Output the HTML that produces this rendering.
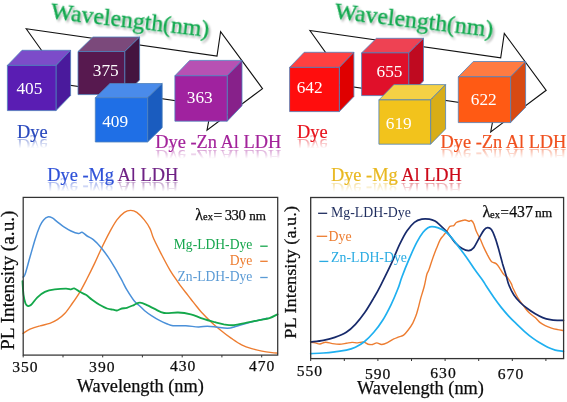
<!DOCTYPE html>
<html><head><meta charset="utf-8"><title>Wavelength PL figure</title>
<style>
html,body{margin:0;padding:0;background:#fff;}
body{width:567px;height:402px;overflow:hidden;}
svg{display:block;font-family:"Liberation Serif","Times New Roman",serif;}
</style></head><body>
<svg width="567" height="402" viewBox="0 0 567 402">
<defs>
<linearGradient id="fadeg" x1="0" y1="0" x2="0" y2="1">
<stop offset="0" stop-color="#707070"/><stop offset="0.2" stop-color="#707070"/><stop offset="0.66" stop-color="#000"/>
</linearGradient>
<mask id="fade" maskContentUnits="objectBoundingBox"><rect x="0" y="0" width="1" height="1" fill="url(#fadeg)"/></mask>
<filter id="sh" x="-5%" y="-20%" width="110%" height="150%"><feGaussianBlur in="SourceAlpha" stdDeviation="1.2" result="b"/><feOffset in="b" dx="1.5" dy="2" result="o"/><feComponentTransfer in="o" result="s"><feFuncA type="linear" slope="0.3"/></feComponentTransfer><feMerge><feMergeNode in="s"/><feMergeNode in="SourceGraphic"/></feMerge></filter>
</defs>
<rect width="567" height="402" fill="#fff"/>

<g>
<text transform="translate(50,18.5) rotate(6.6)" font-size="23.8" fill="#12a84e" stroke="#12a84e" stroke-width="0.35" filter="url(#sh)">Wavelength(nm)</text>
<polygon fill="none" stroke="#111" stroke-width="1.1" stroke-linejoin="miter" points="26.2,28.8 217.0,56.1 220.6,31.6 262.5,88.6 207.0,130.2 211.5,106.0 48.0,82.0 52.0,65.0"/>
<g stroke="#4f81bd" stroke-width="0.8" stroke-linejoin="round"><polygon points="78,51.5 92.9,37.0 139.6,37.0 124.7,51.5" fill="#7b497b"/><polygon points="124.7,51.5 139.6,37.0 139.6,80.1 124.7,94.6" fill="#44143f"/><rect x="78" y="51.5" width="46.7" height="43.099999999999994" fill="#57194f"/></g>
<g stroke="#4f81bd" stroke-width="0.8" stroke-linejoin="round"><polygon points="7.4,65.4 22.0,50.300000000000004 70.6,50.300000000000004 56,65.4" fill="#7c4cc9"/><polygon points="56,65.4 70.6,50.300000000000004 70.6,95.5 56,110.6" fill="#4a1a9c"/><rect x="7.4" y="65.4" width="48.6" height="45.19999999999999" fill="#5a1db3"/></g>
<g stroke="#4f81bd" stroke-width="0.8" stroke-linejoin="round"><polygon points="95.3,97.8 109.89999999999999,83.5 162.2,83.5 147.6,97.8" fill="#4a8bea"/><polygon points="147.6,97.8 162.2,83.5 162.2,127.7 147.6,142" fill="#1a5cbf"/><rect x="95.3" y="97.8" width="52.3" height="44.2" fill="#1f6fe6"/></g>
<g stroke="#4f81bd" stroke-width="0.8" stroke-linejoin="round"><polygon points="174.9,75.8 189.70000000000002,60.4 242.0,60.4 227.2,75.8" fill="#b751b3"/><polygon points="227.2,75.8 242.0,60.4 242.0,105.8 227.2,121.2" fill="#87218a"/><rect x="174.9" y="75.8" width="52.29999999999998" height="45.400000000000006" fill="#a0229f"/></g>
<text x="105.8" y="76.1" font-size="17.3" fill="#fff" text-anchor="middle">375</text>
<text x="29.4" y="94" font-size="17.3" fill="#fff" text-anchor="middle">405</text>
<text x="115.1" y="126.7" font-size="17.3" fill="#fff" text-anchor="middle">409</text>
<text x="199.7" y="102.7" font-size="17.3" fill="#fff" text-anchor="middle">363</text>
<text x="17" y="137.7" font-size="18.35" text-anchor="start" xml:space="preserve"><tspan fill="#2747bd" stroke="#2747bd" stroke-width="0.2">Dye</tspan></text><g mask="url(#fade)"><text transform="translate(0,276.79999999999995) scale(1,-1)" x="17" y="137.7" font-size="18.35" text-anchor="start" xml:space="preserve"><tspan fill="#2747bd" stroke="#2747bd" stroke-width="0.2">Dye</tspan></text></g>
<text x="47.3" y="181" font-size="18.35" text-anchor="start" xml:space="preserve"><tspan fill="#2f52d8" stroke="#2f52d8" stroke-width="0.2">Dye -Mg </tspan><tspan fill="#6f2285" stroke="#6f2285" stroke-width="0.2">Al LDH</tspan></text><g mask="url(#fade)"><text transform="translate(0,363.4) scale(1,-1)" x="47.3" y="181" font-size="18.35" text-anchor="start" xml:space="preserve"><tspan fill="#2f52d8" stroke="#2f52d8" stroke-width="0.2">Dye -Mg </tspan><tspan fill="#6f2285" stroke="#6f2285" stroke-width="0.2">Al LDH</tspan></text></g>
<text x="155.3" y="148.1" font-size="18.35" text-anchor="start" xml:space="preserve"><tspan fill="#a3239b" stroke="#a3239b" stroke-width="0.2">Dye -Zn Al LDH</tspan></text><g mask="url(#fade)"><text transform="translate(0,297.59999999999997) scale(1,-1)" x="155.3" y="148.1" font-size="18.35" text-anchor="start" xml:space="preserve"><tspan fill="#a3239b" stroke="#a3239b" stroke-width="0.2">Dye -Zn Al LDH</tspan></text></g>
</g>
<g>
<text transform="translate(334,18.5) rotate(6.6)" font-size="23.8" fill="#12a84e" stroke="#12a84e" stroke-width="0.35" filter="url(#sh)">Wavelength(nm)</text>
<polygon fill="none" stroke="#111" stroke-width="1.1" stroke-linejoin="miter" points="309.9,30.5 500.7,57.8 504.3,33.3 546.2,90.3 490.7,131.9 495.2,107.7 331.7,83.7 335.7,66.7"/>
<g stroke="#4f81bd" stroke-width="0.8" stroke-linejoin="round"><polygon points="361.6,52.9 376.40000000000003,38.3 423.5,38.3 408.7,52.9" fill="#ee4253"/><polygon points="408.7,52.9 423.5,38.3 423.5,81.0 408.7,95.6" fill="#bf0a20"/><rect x="361.6" y="52.9" width="47.099999999999966" height="42.699999999999996" fill="#e0102a"/></g>
<g stroke="#4f81bd" stroke-width="0.8" stroke-linejoin="round"><polygon points="289.6,67.4 304.20000000000005,52.300000000000004 353.90000000000003,52.300000000000004 339.3,67.4" fill="#ff4040"/><polygon points="339.3,67.4 353.90000000000003,52.300000000000004 353.90000000000003,96.5 339.3,111.6" fill="#df0000"/><rect x="289.6" y="67.4" width="49.69999999999999" height="44.19999999999999" fill="#ff0d0d"/></g>
<g stroke="#4f81bd" stroke-width="0.8" stroke-linejoin="round"><polygon points="378.9,99.9 393.9,84.60000000000001 445.6,84.60000000000001 430.6,99.9" fill="#f5d145"/><polygon points="430.6,99.9 445.6,84.60000000000001 445.6,128.89999999999998 430.6,144.2" fill="#d8ad17"/><rect x="378.9" y="99.9" width="51.700000000000045" height="44.29999999999998" fill="#f2c31c"/></g>
<g stroke="#4f81bd" stroke-width="0.8" stroke-linejoin="round"><polygon points="458.3,76.8 473.3,61.5 525.6,61.5 510.6,76.8" fill="#ff7b42"/><polygon points="510.6,76.8 525.6,61.5 525.6,107.3 510.6,122.6" fill="#d84a12"/><rect x="458.3" y="76.8" width="52.30000000000001" height="45.8" fill="#ff5a14"/></g>
<text x="389.5" y="76.7" font-size="17.3" fill="#fff" text-anchor="middle">655</text>
<text x="309.6" y="93.3" font-size="17.3" fill="#fff" text-anchor="middle">642</text>
<text x="398.8" y="128.7" font-size="17.3" fill="#fff" text-anchor="middle">619</text>
<text x="483.8" y="104.7" font-size="17.3" fill="#fff" text-anchor="middle">622</text>
<text x="297" y="138" font-size="18.35" text-anchor="start" xml:space="preserve"><tspan fill="#e8101a" stroke="#e8101a" stroke-width="0.2">Dye</tspan></text><g mask="url(#fade)"><text transform="translate(0,277.4) scale(1,-1)" x="297" y="138" font-size="18.35" text-anchor="start" xml:space="preserve"><tspan fill="#e8101a" stroke="#e8101a" stroke-width="0.2">Dye</tspan></text></g>
<text x="330.9" y="181.2" font-size="18.35" text-anchor="start" xml:space="preserve"><tspan fill="#e8b820" stroke="#e8b820" stroke-width="0.2">Dye -Mg </tspan><tspan fill="#cc0a1a" stroke="#cc0a1a" stroke-width="0.2">Al LDH</tspan></text><g mask="url(#fade)"><text transform="translate(0,363.79999999999995) scale(1,-1)" x="330.9" y="181.2" font-size="18.35" text-anchor="start" xml:space="preserve"><tspan fill="#e8b820" stroke="#e8b820" stroke-width="0.2">Dye -Mg </tspan><tspan fill="#cc0a1a" stroke="#cc0a1a" stroke-width="0.2">Al LDH</tspan></text></g>
<text x="440.5" y="147.7" font-size="18.35" text-anchor="start" xml:space="preserve"><tspan fill="#f0501e" stroke="#f0501e" stroke-width="0.2">Dye -Zn Al LDH</tspan></text><g mask="url(#fade)"><text transform="translate(0,296.79999999999995) scale(1,-1)" x="440.5" y="147.7" font-size="18.35" text-anchor="start" xml:space="preserve"><tspan fill="#f0501e" stroke="#f0501e" stroke-width="0.2">Dye -Zn Al LDH</tspan></text></g>
</g>
<g fill="none" stroke-linecap="round" stroke-linejoin="round">
<path d="M23.0,333.4C24.2,332.7 27.2,330.4 30.0,329.1C32.8,327.9 36.6,326.8 39.9,325.9C43.2,324.9 46.9,324.4 49.8,323.4C52.7,322.4 54.8,321.3 57.3,319.7C59.8,318.1 62.2,316.2 64.7,313.5C67.2,310.8 69.7,307.0 72.2,303.5C74.7,300.0 77.2,296.5 79.7,292.3C82.2,288.1 84.6,283.3 87.1,278.5C89.6,273.7 92.1,268.6 94.6,263.4C97.1,258.2 99.5,252.4 102.0,247.2C104.5,242.0 107.0,236.9 109.5,232.3C112.0,227.8 114.4,223.2 116.9,219.9C119.4,216.6 122.1,214.0 124.4,212.4C126.7,210.8 128.5,210.4 130.6,210.4C132.7,210.4 134.5,210.8 136.8,212.4C139.1,214.0 142.1,217.2 144.3,219.9C146.5,222.6 148.4,225.4 150.0,228.6C151.6,231.8 151.7,234.4 153.7,238.8C155.7,243.2 159.2,249.9 161.9,255.2C164.6,260.4 167.4,265.7 170.1,270.3C172.8,274.9 175.6,278.7 178.3,282.6C181.0,286.5 184.4,290.8 186.5,293.5C188.6,296.2 189.2,297.0 190.8,299.0C192.4,301.0 194.4,303.6 196.1,305.7C197.8,307.8 198.5,309.0 201.0,311.7C203.5,314.4 207.7,318.7 211.1,321.9C214.5,325.1 217.9,328.1 221.3,330.8C224.7,333.6 228.0,336.1 231.4,338.4C234.8,340.7 238.2,343.1 241.6,344.8C245.0,346.5 248.3,347.6 251.7,348.6C255.1,349.7 258.5,350.4 261.9,351.1C265.3,351.8 269.5,352.3 272.1,352.6C274.7,352.9 276.6,353.0 277.5,353.1" stroke="#ed7d31" stroke-width="1.4"/>
<path d="M23.0,277.0C23.3,276.6 23.8,277.8 25.0,274.5C26.2,271.2 28.3,262.8 30.0,257.0C31.7,251.2 33.4,244.9 35.0,239.7C36.6,234.5 38.5,229.3 39.9,226.0C41.3,222.7 42.3,221.4 43.6,219.9C44.9,218.4 46.3,217.2 47.8,216.9C49.2,216.6 50.7,217.1 52.3,217.9C53.9,218.7 55.4,220.4 57.3,221.8C59.2,223.2 61.2,225.1 63.5,226.6C65.8,228.1 68.5,229.8 71.0,231.0C73.5,232.2 76.6,233.3 78.4,233.5C80.2,233.7 80.6,231.9 82.1,232.3C83.5,232.7 85.2,234.8 87.1,236.0C89.0,237.2 91.0,237.8 93.3,239.7C95.6,241.6 98.3,244.3 100.8,247.2C103.3,250.1 105.9,253.8 108.2,257.1C110.5,260.4 112.6,264.0 114.5,267.1C116.4,270.2 118.0,273.2 119.4,275.8C120.8,278.4 121.8,280.1 123.0,282.5C124.2,284.9 125.0,286.8 126.9,289.9C128.8,293.0 132.1,298.3 134.3,301.0C136.5,303.7 138.2,304.5 140.0,306.2C141.8,307.9 143.1,309.4 145.0,311.0C146.9,312.6 149.1,314.1 151.4,315.6C153.7,317.1 156.4,318.8 159.0,320.1C161.6,321.5 164.4,322.8 166.7,323.7C169.0,324.6 169.8,325.4 173.0,325.7C176.2,326.0 181.5,325.5 185.7,325.7C189.9,325.9 194.8,326.9 198.4,327.0C202.0,327.1 204.3,326.2 207.3,326.2C210.3,326.2 212.8,326.6 216.2,327.0C219.6,327.4 224.2,328.4 227.6,328.3C231.0,328.2 233.3,327.1 236.5,326.2C239.7,325.3 242.9,324.2 246.7,323.2C250.5,322.1 256.0,320.7 259.4,319.9C262.8,319.1 265.7,318.6 267.0,318.3" stroke="#4a90d9" stroke-width="1.5"/>
<path d="M22.5,281.2C22.7,283.5 23.0,291.1 23.5,294.8C24.0,298.5 24.8,301.6 25.5,303.5C26.2,305.4 27.1,305.8 28.0,306.0C28.9,306.2 29.6,306.2 31.2,304.8C32.8,303.4 35.1,299.5 37.4,297.3C39.7,295.1 42.0,293.1 44.9,291.8C47.8,290.5 51.3,289.9 54.8,289.4C58.3,288.9 63.3,288.6 66.0,288.6C68.7,288.6 69.6,289.4 71.0,289.4C72.4,289.4 72.8,288.0 74.2,288.4C75.7,288.8 77.8,290.7 79.7,291.8C81.7,292.9 83.8,293.5 85.9,294.8C88.0,296.1 89.8,298.1 92.1,299.8C94.4,301.5 97.0,303.4 99.5,304.8C102.0,306.2 104.7,307.7 107.0,308.5C109.3,309.3 111.5,309.4 113.2,309.7C114.9,310.0 115.5,310.7 116.9,310.5C118.4,310.3 120.2,308.9 121.9,308.5C123.6,308.1 124.8,308.4 126.9,307.8C129.0,307.2 132.1,305.7 134.3,304.8C136.5,303.9 137.8,302.5 140.0,302.6C142.2,302.7 145.1,304.3 147.6,305.4C150.1,306.5 152.4,307.9 155.2,309.2C157.9,310.5 160.3,312.4 164.1,313.0C167.9,313.6 173.6,312.3 178.1,312.5C182.6,312.7 187.0,313.4 190.8,314.3C194.6,315.2 197.2,316.8 201.0,318.1C204.8,319.4 209.9,320.8 213.7,321.9C217.5,322.9 220.4,323.8 223.8,324.4C227.2,324.9 230.2,325.5 234.0,325.2C237.8,324.9 242.5,323.5 246.7,322.7C250.9,321.9 255.6,320.9 259.4,320.1C263.2,319.3 266.5,319.1 269.5,318.1C272.5,317.1 276.2,314.9 277.5,314.3" stroke="#14a84b" stroke-width="1.85"/>
</g>
<rect x="23.2" y="197.4" width="254.5" height="157.7" fill="none" stroke="#333" stroke-width="1.25"/>
<path d="M23.2,355.1v2.3M63.0,355.1v2.3M102.7,355.1v2.3M142.4,355.1v2.3M182.2,355.1v2.3M221.9,355.1v2.3M261.7,355.1v2.3" stroke="#333" stroke-width="1" fill="none"/>
<text x="25.4" y="372.4" font-size="15.6" letter-spacing="1" text-anchor="middle" fill="#0d0d0d" stroke="#0d0d0d" stroke-width="0.25">350</text>
<text x="102.3" y="371.9" font-size="15.6" letter-spacing="1" text-anchor="middle" fill="#0d0d0d" stroke="#0d0d0d" stroke-width="0.25">390</text>
<text x="183.1" y="371" font-size="15.6" letter-spacing="1" text-anchor="middle" fill="#0d0d0d" stroke="#0d0d0d" stroke-width="0.25">430</text>
<text x="262.1" y="371" font-size="15.6" letter-spacing="1" text-anchor="middle" fill="#0d0d0d" stroke="#0d0d0d" stroke-width="0.25">470</text>
<text x="140.3" y="392.3" font-size="18.3" text-anchor="middle" fill="#0d0d0d" stroke="#0d0d0d" stroke-width="0.25">Wavelength (nm)</text>
<text transform="translate(13.5,280.2) rotate(-90) scale(1.071,1)" font-size="18" text-anchor="middle" fill="#0d0d0d" stroke="#0d0d0d" stroke-width="0.25">PL Intensity (a.u.)</text>
<text y="219.8" fill="#0d0d0d" stroke="#0d0d0d" stroke-width="0.25"><tspan x="195.2" font-size="16">λ</tspan><tspan x="203" y="220.1" font-size="10.5">ex</tspan><tspan x="213.5" y="219.8" font-size="15.5">=</tspan><tspan x="224.7" font-size="14.6" letter-spacing="-0.4">330</tspan><tspan x="249.2" font-size="13.1">nm</tspan></text>
<text x="252.3" y="248.6" font-size="13.6" text-anchor="end" fill="#17a64d">Mg-LDH-Dye</text>
<path d="M260.2,246.2h7.5" stroke="#17a64d" stroke-width="1.3"/>
<text x="252.3" y="265" font-size="13.6" text-anchor="end" fill="#ed7d31">Dye</text>
<path d="M260.2,261.3h7.5" stroke="#ed7d31" stroke-width="1.3"/>
<text x="252.3" y="280.8" font-size="13.6" text-anchor="end" fill="#5b9bd5">Zn-LDH-Dye</text>
<path d="M260.2,277.5h7.5" stroke="#5b9bd5" stroke-width="1.3"/>
<g fill="none" stroke-linecap="round" stroke-linejoin="round">
<path d="M310.7,342.2C311.5,342.3 313.8,342.6 315.3,342.9C316.8,343.2 318.2,344.1 319.9,344.0C321.6,343.9 323.5,342.3 325.6,342.2C327.7,342.1 330.2,343.3 332.5,343.6C334.8,343.9 337.1,344.2 339.4,344.2C341.7,344.1 344.2,343.6 346.3,343.3C348.4,343.0 350.1,342.5 352.0,342.4C353.9,342.3 355.8,343.0 357.7,342.9C359.6,342.8 361.8,341.8 363.5,342.0C365.2,342.2 366.5,343.8 368.0,344.2C369.5,344.6 371.1,344.7 372.6,344.5C374.1,344.3 375.3,342.9 376.8,342.9C378.3,342.9 380.0,344.6 381.8,344.5C383.6,344.4 385.6,343.5 387.5,342.6C389.4,341.7 391.4,340.1 393.3,339.2C395.2,338.2 397.3,337.6 399.0,336.9C400.7,336.2 402.1,336.2 403.6,335.1C405.1,334.0 406.7,332.0 408.2,330.0C409.7,328.0 411.5,325.6 412.8,323.1C414.1,320.6 415.2,317.8 416.2,315.1C417.1,312.4 417.7,310.0 418.5,307.1C419.3,304.2 419.9,301.3 420.8,297.9C421.8,294.5 423.2,290.4 424.2,286.5C425.2,282.6 426.0,277.2 426.8,274.5C427.6,271.8 427.9,272.7 428.8,270.1C429.8,267.5 431.2,262.4 432.5,258.9C433.8,255.3 435.1,251.9 436.3,248.8C437.6,245.7 438.8,242.4 440.0,240.1C441.2,237.8 442.6,236.8 443.8,235.1C445.1,233.4 446.5,231.6 447.5,230.1C448.5,228.6 448.9,227.1 450.0,226.3C451.1,225.6 452.8,226.2 453.8,225.6C454.9,225.0 455.1,223.3 456.3,222.5C457.6,221.7 459.8,221.2 461.3,220.8C462.8,220.4 463.9,219.9 465.1,220.0C466.4,220.1 467.8,221.2 468.8,221.3C469.8,221.4 470.5,220.1 471.3,220.5C472.1,220.9 473.0,222.0 473.8,223.8C474.6,225.6 475.2,228.8 476.3,231.3C477.4,233.8 478.8,236.1 480.1,238.8C481.4,241.5 482.6,244.9 483.9,247.6C485.1,250.3 486.4,252.8 487.6,255.1C488.9,257.4 489.9,259.9 491.4,261.4C492.9,262.9 494.9,262.6 496.4,263.9C497.8,265.1 498.9,267.1 500.1,268.9C501.4,270.7 502.6,273.2 503.9,274.6C505.1,276.1 506.4,276.1 507.6,277.6C508.9,279.2 510.5,282.2 511.4,283.9C512.2,285.5 511.7,285.2 512.7,287.5C513.8,289.8 515.8,294.4 517.7,297.5C519.6,300.6 522.0,303.8 523.9,306.3C525.8,308.8 527.0,310.7 528.9,312.6C530.8,314.5 533.3,315.9 535.2,317.6C537.1,319.3 538.5,321.3 540.2,322.6C541.9,323.9 543.3,324.7 545.2,325.6C547.1,326.5 549.4,327.4 551.5,328.1C553.6,328.8 555.7,329.2 557.7,329.6C559.7,330.0 562.5,330.4 563.5,330.6" stroke="#ed7d31" stroke-width="1.4"/>
<path d="M310.7,342.0C312.8,341.7 319.3,341.1 323.3,340.3C327.3,339.5 331.0,338.7 334.8,337.4C338.6,336.1 342.9,334.5 346.3,332.3C349.7,330.1 352.3,327.6 355.4,324.3C358.4,321.1 361.5,317.2 364.6,312.8C367.7,308.4 371.1,302.5 373.8,297.9C376.5,293.3 377.7,291.3 380.7,285.3C383.7,279.3 388.9,268.9 392.0,262.1C395.1,255.3 397.0,249.9 399.5,244.7C402.0,239.5 404.4,234.7 406.9,231.0C409.4,227.3 411.9,224.3 414.4,222.3C416.9,220.3 419.3,219.6 421.8,219.1C424.3,218.6 427.1,218.8 429.3,219.1C431.5,219.4 433.2,220.1 435.0,221.1C436.8,222.1 437.9,223.2 440.0,225.1C442.1,227.0 445.0,229.7 447.5,232.6C450.0,235.5 452.6,239.9 455.1,242.6C457.6,245.3 460.3,247.5 462.6,248.8C464.9,250.1 466.9,250.8 468.8,250.6C470.7,250.4 472.1,249.6 473.8,247.6C475.5,245.6 477.1,241.7 478.8,238.8C480.5,235.9 482.4,232.0 483.9,230.1C485.4,228.2 486.4,227.7 487.6,227.6C488.9,227.5 490.1,227.9 491.4,229.6C492.6,231.3 493.9,234.2 495.1,237.6C496.4,241.0 497.6,245.7 498.9,250.1C500.1,254.5 501.4,259.5 502.6,263.9C503.9,268.3 505.3,272.9 506.4,276.4C507.4,279.9 507.6,281.9 508.9,285.0C510.1,288.1 512.0,292.1 513.9,295.0C515.8,297.9 517.9,300.2 520.2,302.5C522.5,304.8 525.2,306.9 527.7,308.8C530.2,310.7 532.7,312.3 535.2,313.8C537.7,315.3 540.2,316.6 542.7,317.6C545.2,318.6 547.7,319.2 550.2,319.6C552.7,320.1 555.5,320.2 557.7,320.3C559.9,320.4 562.5,320.3 563.5,320.3" stroke="#172a6b" stroke-width="1.7"/>
<path d="M310.7,353.6C312.8,353.5 319.3,353.3 323.3,353.0C327.3,352.7 331.0,352.3 334.8,351.8C338.6,351.3 342.9,351.0 346.3,350.2C349.7,349.4 352.3,348.6 355.4,347.2C358.4,345.8 361.5,344.0 364.6,341.5C367.7,339.0 370.7,335.9 373.8,332.3C376.9,328.7 380.1,324.3 383.0,319.7C385.9,315.1 388.5,309.9 391.0,304.8C393.5,299.7 396.1,293.4 397.9,288.8C399.7,284.2 400.0,282.1 401.9,277.0C403.8,271.9 406.9,264.2 409.4,258.4C411.9,252.6 414.6,246.5 416.9,242.2C419.2,237.8 421.2,234.7 423.1,232.3C425.0,229.9 426.5,228.8 428.0,227.8C429.5,226.9 430.4,226.6 432.0,226.6C433.6,226.6 435.3,226.8 437.5,227.6C439.7,228.4 442.5,229.4 445.0,231.3C447.5,233.2 450.0,235.9 452.5,238.8C455.0,241.7 457.6,245.5 460.1,248.8C462.6,252.2 465.1,255.3 467.6,258.9C470.1,262.4 472.6,266.6 475.1,270.1C477.6,273.7 480.7,277.5 482.6,280.2C484.5,282.9 484.5,283.4 486.4,286.3C488.3,289.2 491.4,293.9 493.9,297.5C496.4,301.1 498.9,304.5 501.4,307.6C503.9,310.7 506.4,313.6 508.9,316.3C511.4,319.0 513.7,321.2 516.4,323.8C519.1,326.4 522.5,329.7 525.2,332.1C527.9,334.5 530.2,336.3 532.7,338.1C535.2,339.9 537.7,341.6 540.2,343.1C542.7,344.6 545.2,346.1 547.7,347.3C550.2,348.5 552.6,349.4 555.2,350.1C557.8,350.8 562.1,351.1 563.5,351.3" stroke="#1fb0f0" stroke-width="1.7"/>
</g>
<rect x="310.7" y="197.5" width="252.9" height="161.1" fill="none" stroke="#333" stroke-width="1.3"/>
<path d="M310.7,358.6v2.4M344.3,358.6v2.4M377.9,358.6v2.4M411.5,358.6v2.4M445.1,358.6v2.4M478.7,358.6v2.4M512.3,358.6v2.4M545.9,358.6v2.4" stroke="#333" stroke-width="1" fill="none"/>
<text x="309.9" y="375.6" font-size="15.6" letter-spacing="1" text-anchor="middle" fill="#0d0d0d" stroke="#0d0d0d" stroke-width="0.25">550</text>
<text x="378.1" y="378.5" font-size="15.6" letter-spacing="1" text-anchor="middle" fill="#0d0d0d" stroke="#0d0d0d" stroke-width="0.25">590</text>
<text x="443.5" y="377.5" font-size="15.6" letter-spacing="1" text-anchor="middle" fill="#0d0d0d" stroke="#0d0d0d" stroke-width="0.25">630</text>
<text x="511" y="379.2" font-size="15.6" letter-spacing="1" text-anchor="middle" fill="#0d0d0d" stroke="#0d0d0d" stroke-width="0.25">670</text>
<text x="420.4" y="394.2" font-size="18.3" text-anchor="middle" fill="#0d0d0d" stroke="#0d0d0d" stroke-width="0.25">Wavelength (nm)</text>
<text transform="translate(296.2,272.4) rotate(-90) scale(1.043,1)" font-size="17.6" text-anchor="middle" fill="#0d0d0d" stroke="#0d0d0d" stroke-width="0.25">PL Intensity (a.u.)</text>
<text y="217.3" fill="#0d0d0d" stroke="#0d0d0d" stroke-width="0.25"><tspan x="482.5" font-size="16.5">λ</tspan><tspan x="490" y="217.5" font-size="10.5">ex</tspan><tspan x="500.5" y="217.3" font-size="14.8">=</tspan><tspan x="509.2" font-size="15.8">437</tspan><tspan x="535" font-size="13.4">nm</tspan></text>
<text x="331.1" y="217.4" font-size="13.8" fill="#1f2d5e">Mg-LDH-Dye</text>
<path d="M318.1,213.3H327.2" stroke="#1f2d5e" stroke-width="1.3"/>
<text x="328.6" y="240.5" font-size="13.8" fill="#ed7d31">Dye</text>
<path d="M316.7,236.3H327.2" stroke="#ed7d31" stroke-width="1.3"/>
<text x="331.1" y="262.1" font-size="13.8" fill="#29abe2">Zn-LDH-Dye</text>
<path d="M319.3,261.4H328.3" stroke="#29abe2" stroke-width="1.3"/>
</svg></body></html>
